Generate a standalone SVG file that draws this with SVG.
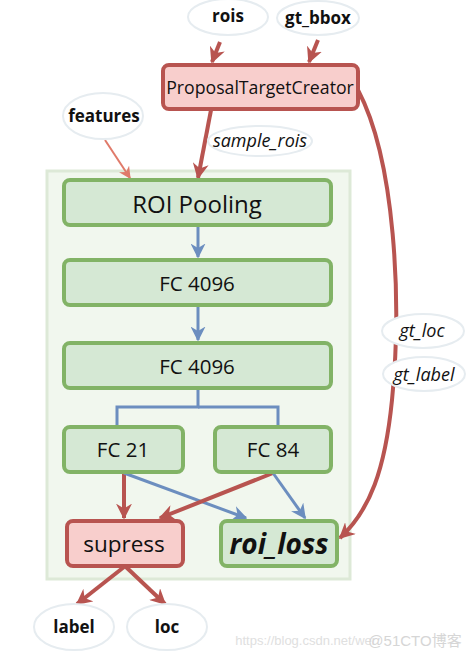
<svg xmlns="http://www.w3.org/2000/svg" width="474" height="657" viewBox="0 0 474 657">
<defs>
<style>
text{font-family:"Open Sans","Noto Sans","Liberation Sans",sans-serif;fill:#111;text-anchor:middle;dominant-baseline:central}
.ell{fill:#fff;stroke:#e6ecf0;stroke-width:2}
.lbl{font-weight:bold;font-size:17px}
.it{font-style:italic;font-size:18px}
.g{fill:#d5e8d4;stroke:#82b366;stroke-width:4}
.r{fill:#f8cecc;stroke:#b85450;stroke-width:4}
.rl{stroke:#b85450;stroke-width:4;fill:none}
.bl{stroke:#6c8ebf;stroke-width:3;fill:none}
</style>
<marker id="ar" viewBox="0 0 10 10" refX="9" refY="5" markerWidth="4" markerHeight="4" orient="auto" markerUnits="strokeWidth"><path d="M0,0 L10,5 L0,10 L3,5 z" fill="#b85450"/></marker>
<marker id="ab" viewBox="0 0 10 10" refX="9" refY="5" markerWidth="5" markerHeight="5" orient="auto" markerUnits="strokeWidth"><path d="M0,0 L10,5 L0,10 L3,5 z" fill="#6c8ebf"/></marker>
<marker id="as" viewBox="0 0 10 10" refX="9" refY="5" markerWidth="6" markerHeight="6" orient="auto" markerUnits="strokeWidth"><path d="M0,0 L10,5 L0,10 L3,5 z" fill="#e07a6a"/></marker>
</defs>
<rect width="474" height="657" fill="#fff"/>
<rect x="47" y="171" width="303" height="408" fill="#f1f7ee" stroke="#dde9d7" stroke-width="3"/>
<g id="connectors">
<line class="rl" x1="220" y1="42" x2="212" y2="62" marker-end="url(#ar)"/>
<line class="rl" x1="318" y1="40" x2="309" y2="62" marker-end="url(#ar)"/>
<line x1="105" y1="140" x2="130" y2="178" stroke="#e07a6a" stroke-width="2" marker-end="url(#as)"/>
<line class="rl" x1="211" y1="110" x2="198" y2="178" marker-end="url(#ar)"/>
<path class="rl" d="M358,90 C395,160 402,300 392,400 C385,470 370,510 340,538" marker-end="url(#ar)"/>
<line class="bl" x1="198" y1="226" x2="198" y2="257" marker-end="url(#ab)"/>
<line class="bl" x1="198" y1="306" x2="198" y2="340" marker-end="url(#ab)"/>
<polyline class="bl" points="198,389 198,407 117,407 117,426"/>
<polyline class="bl" points="198,407 278,407 278,426"/>
<line class="rl" x1="124" y1="473" x2="124" y2="518" marker-end="url(#ar)"/>
<line class="bl" x1="124" y1="473" x2="246" y2="518" marker-end="url(#ab)"/>
<line class="rl" x1="273" y1="473" x2="160" y2="518" marker-end="url(#ar)"/>
<line class="bl" x1="273" y1="473" x2="305" y2="518" marker-end="url(#ab)"/>
<line class="rl" x1="124" y1="567" x2="77" y2="604" marker-end="url(#ar)"/>
<line class="rl" x1="126" y1="567" x2="165" y2="604" marker-end="url(#ar)"/>
</g>
<g id="rois"><ellipse class="ell" cx="228" cy="17" rx="40" ry="18"/><text class="lbl" x="228" y="15">rois</text></g>
<g id="gt_bbox"><ellipse class="ell" cx="318" cy="18" rx="41" ry="17"/><text class="lbl" x="318" y="17" font-size="17.5">gt_bbox</text></g>
<g id="ptc"><rect class="r" x="163" y="65" width="195" height="44" rx="6"/><text x="260" y="87" font-size="17.7">ProposalTargetCreator</text></g>
<g id="features"><ellipse class="ell" cx="103" cy="116" rx="40" ry="23"/><text class="lbl" x="104" y="115" font-size="16">features</text></g>
<g id="sample_rois"><ellipse class="ell" cx="260" cy="141" rx="52" ry="15" stroke="#f0f3f5"/><text class="it" x="260" y="140">sample_rois</text></g>
<g id="gt_loc"><ellipse class="ell" cx="423" cy="331" rx="41" ry="17"/><text class="it" x="422" y="330" font-size="19">gt_loc</text></g>
<g id="gt_label"><ellipse class="ell" cx="424" cy="374" rx="41" ry="17"/><text class="it" x="424" y="374" font-size="19">gt_label</text></g>
<g id="roi_pooling"><rect class="g" x="64" y="180" width="267" height="45" rx="6"/><text x="197" y="203" font-size="24">ROI Pooling</text></g>
<g id="fc4096a"><rect class="g" x="64" y="260" width="267" height="45" rx="6"/><text x="197" y="283" font-size="20.5">FC 4096</text></g>
<g id="fc4096b"><rect class="g" x="64" y="343" width="267" height="45" rx="6"/><text x="197" y="366" font-size="20.5">FC 4096</text></g>
<g id="fc21"><rect class="g" x="64" y="427" width="119" height="45" rx="6"/><text x="123" y="449" font-size="20.5">FC 21</text></g>
<g id="fc84"><rect class="g" x="215" y="427" width="116" height="45" rx="6"/><text x="273" y="449" font-size="20.5">FC 84</text></g>
<g id="supress"><rect class="r" x="67" y="521" width="116" height="45" rx="6"/><text x="124" y="543" font-size="22.5">supress</text></g>
<g id="roi_loss"><rect class="g" x="221" y="521" width="116" height="45" rx="6"/><text x="279" y="543" font-size="28" font-weight="bold" font-style="italic">roi_loss</text></g>
<g id="label"><ellipse class="ell" cx="74" cy="627" rx="40" ry="23"/><text class="lbl" x="74" y="626" font-size="17.5">label</text></g>
<g id="loc"><ellipse class="ell" cx="167" cy="627" rx="40" ry="23"/><text class="lbl" x="167" y="626" font-size="17">loc</text></g>
<g id="watermark"><text x="305" y="640" font-size="13" style="fill:#e0e0e0;font-family:'Liberation Sans',sans-serif">https://blog.csdn.net/wei</text><text x="415" y="640" font-size="15" style="fill:#d6d6d6;font-family:'Liberation Sans','Noto Sans CJK SC',sans-serif">@51CTO博客</text></g>
</svg>
